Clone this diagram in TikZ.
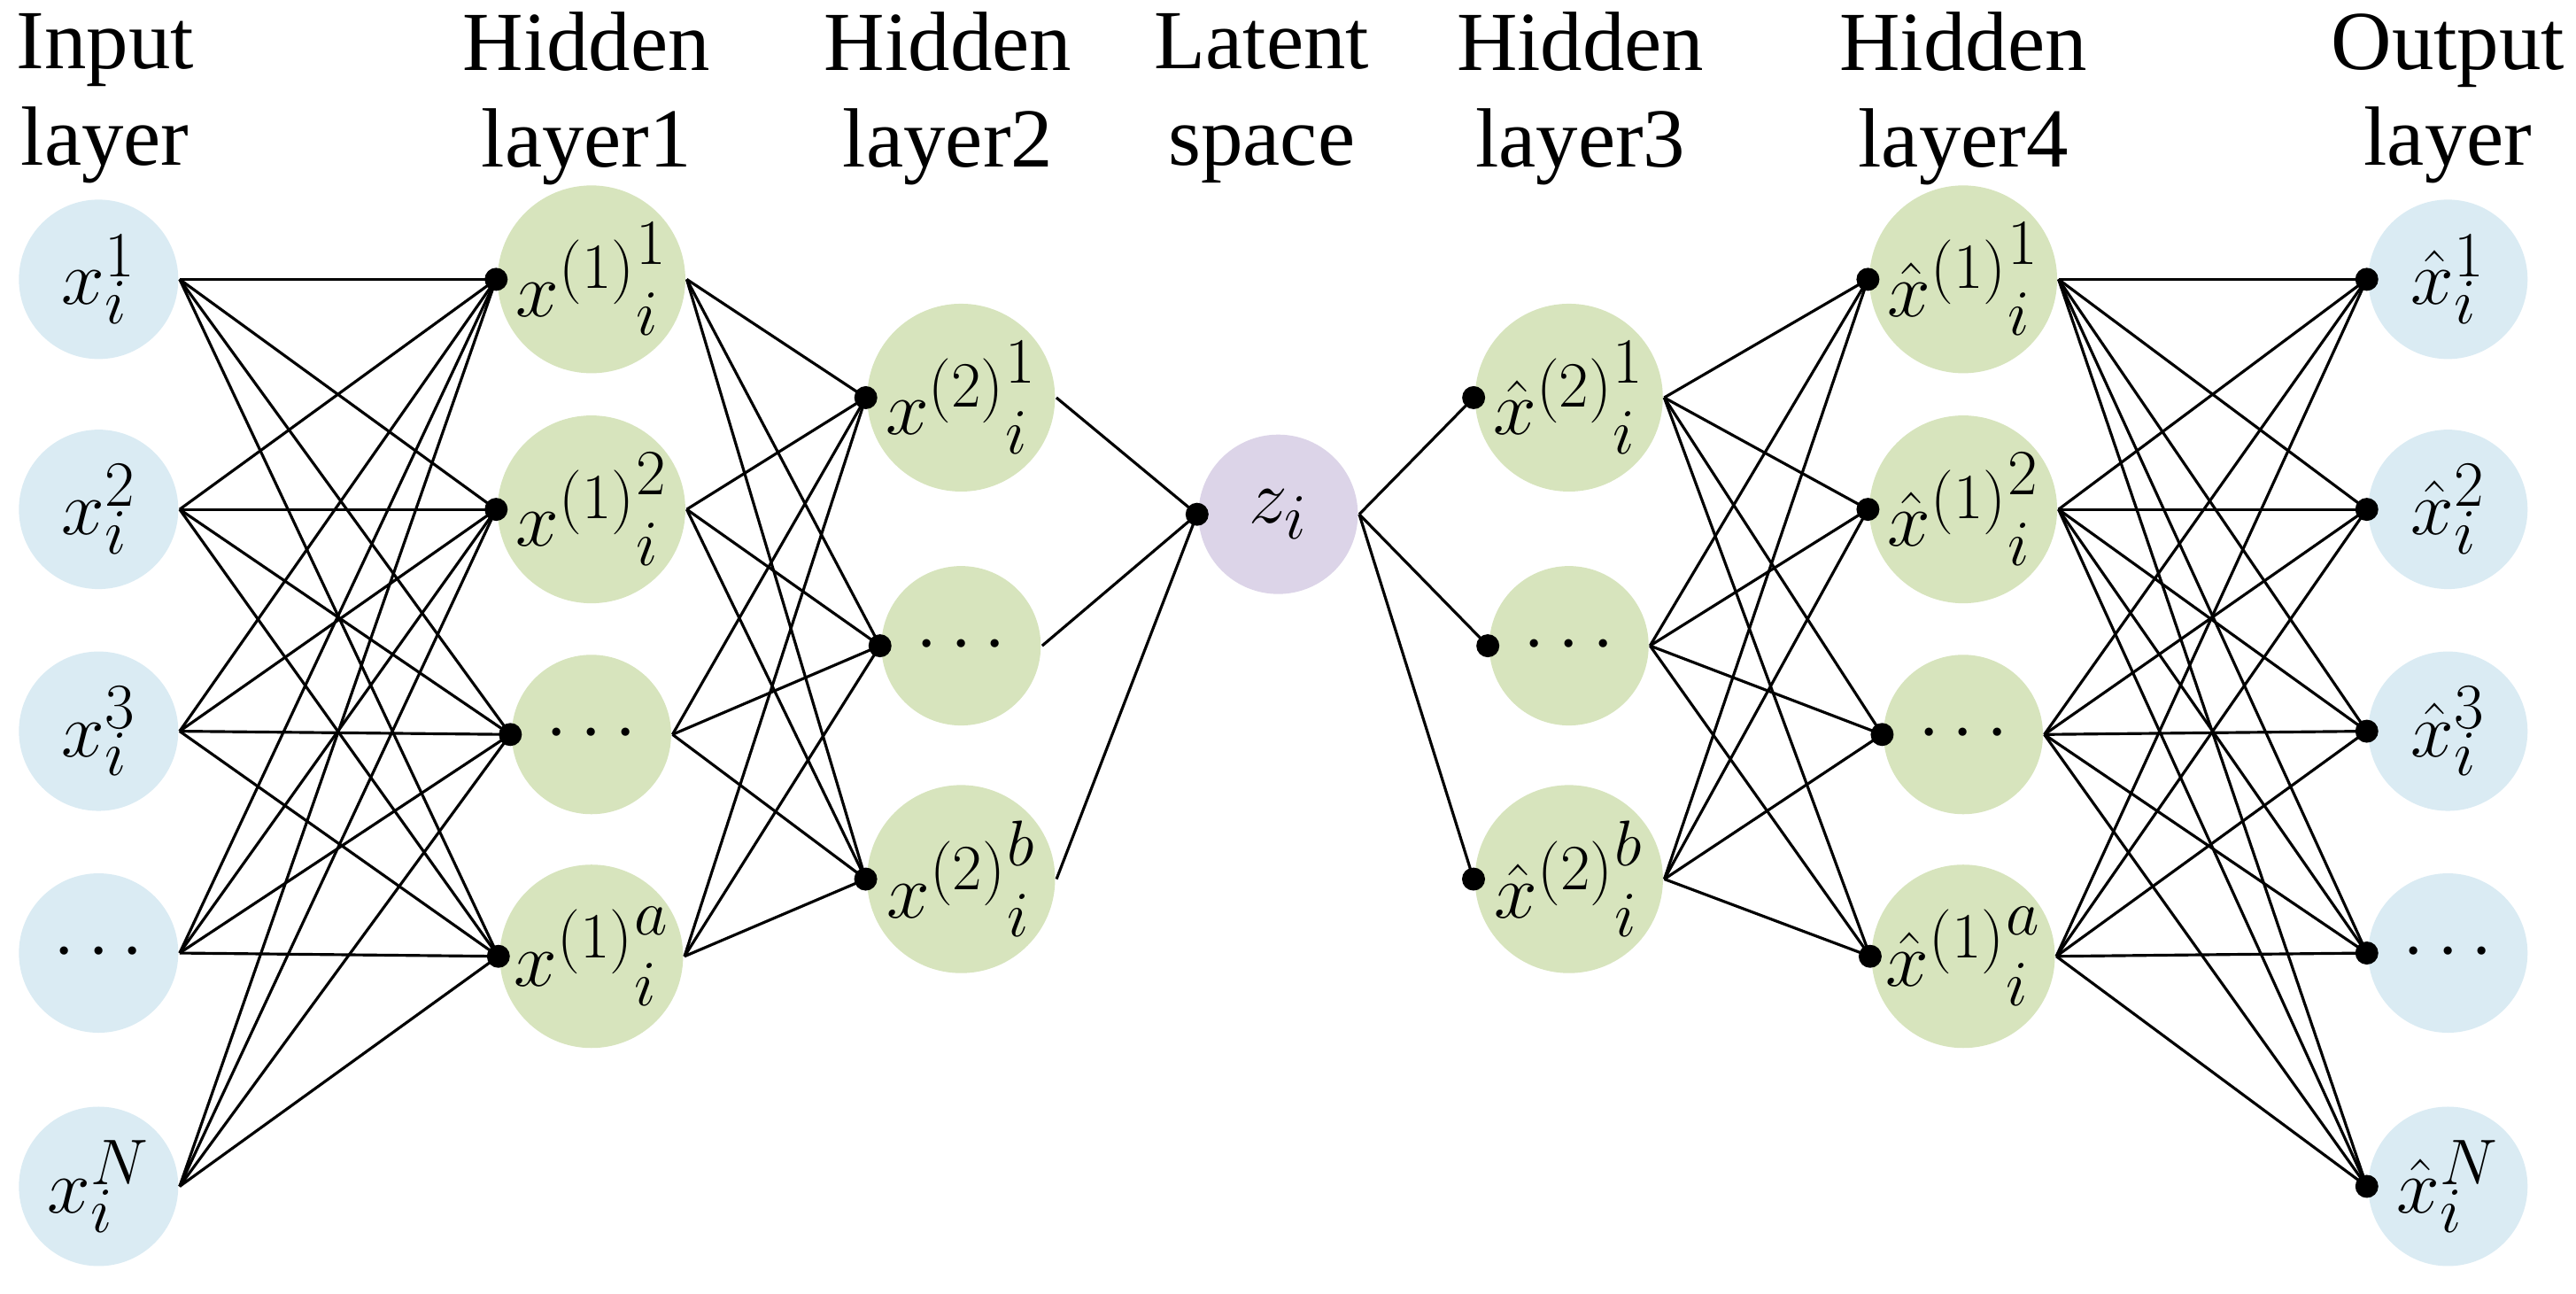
\documentclass[tikz,border=0pt]{standalone}
\usepackage{fontspec}
\setmainfont{Liberation Serif}
\usetikzlibrary{positioning}
\definecolor{inblue}{RGB}{218,235,243}
\definecolor{hidgreen}{RGB}{215,228,189}
\definecolor{latpurple}{RGB}{220,212,232}
\tikzset{
  unit/.style={circle, draw=none, minimum size=1.8cm, inner sep=0pt, font=\fontsize{30}{34}\selectfont},
  title/.style={align=center, font=\fontsize{27}{31}\selectfont},
  dot/.style={circle, fill=black, inner sep=0pt, minimum size=0.26cm},
}
\begin{document}
\begin{tikzpicture}[x=0.01855cm, y=-0.01855cm, line width=0.9pt]
\useasboundingbox (0,0) rectangle (1568,787);

% titles
\foreach \x/\t in {64/{Input\\layer}, 357/{Hidden\\layer1}, 577/{Hidden\\layer2},
    768/{Latent\\space}, 962/{Hidden\\layer3}, 1195/{Hidden\\layer4}, 1490/{Output\\layer}}
    \node[title] at (\x, 60) {\t};

% input layer
\foreach \n/\y/\m in {1/170/{x_i^1}, 2/310/{x_i^2}, 3/445/{x_i^3}, 4/580/{\cdots}, 5/722/{x_i^N}}
    \node[unit, fill=inblue] (i\n) at (60,\y) {$\m$};

% hidden layer 1
\foreach \n/\y/\m in {1/170/{{x^{(1)}}^1_i}, 2/310/{{x^{(1)}}^2_i}, 3/447/{\cdots}, 4/582/{{x^{(1)}}^a_i}}
    \node[unit, fill=hidgreen] (a\n) at (360,\y) {$\m$};

% hidden layer 2
\foreach \n/\y/\m in {1/242/{{x^{(2)}}^1_i}, 2/393/{\cdots}, 3/535/{{x^{(2)}}^b_i}}
    \node[unit, fill=hidgreen] (b\n) at (585,\y) {$\m$};

% latent
\node[unit, fill=latpurple] (z) at (778,313) {$z_i$};

% hidden layer 3
\foreach \n/\y/\m in {1/242/{{\hat{x}^{(2)}{}}^1_i}, 2/393/{\cdots}, 3/535/{{\hat{x}^{(2)}{}}^b_i}}
    \node[unit, fill=hidgreen] (c\n) at (955,\y) {$\m$};

% hidden layer 4
\foreach \n/\y/\m in {1/170/{{\hat{x}^{(1)}{}}^1_i}, 2/310/{{\hat{x}^{(1)}{}}^2_i}, 3/447/{\cdots}, 4/582/{{\hat{x}^{(1)}{}}^a_i}}
    \node[unit, fill=hidgreen] (d\n) at (1195,\y) {$\m$};

% output layer
\foreach \n/\y/\m in {1/170/{\hat{x}_i^1}, 2/310/{\hat{x}_i^2}, 3/445/{\hat{x}_i^3}, 4/580/{\cdots}, 5/722/{\hat{x}_i^N}}
    \node[unit, fill=inblue] (o\n) at (1490,\y) {$\m$};

% connections
\foreach \s in {1,...,5} \foreach \t in {1,...,4}
    \draw (i\s.east) -- (a\t.west);
\foreach \s in {1,...,4} \foreach \t in {1,...,3}
    \draw (a\s.east) -- (b\t.west);
\foreach \s in {1,...,3}
    \draw (b\s.east) -- (z.west);
\foreach \t in {1,...,3}
    \draw (z.east) -- (c\t.west);
\foreach \s in {1,...,3} \foreach \t in {1,...,4}
    \draw (c\s.east) -- (d\t.west);
\foreach \s in {1,...,4} \foreach \t in {1,...,5}
    \draw (d\s.east) -- (o\t.west);

% dots
\foreach \m in {a1,a2,a3,a4,b1,b2,b3,z,c1,c2,c3,d1,d2,d3,d4,o1,o2,o3,o4,o5}
    \node[dot] at (\m.west) {};
\end{tikzpicture}
\end{document}
